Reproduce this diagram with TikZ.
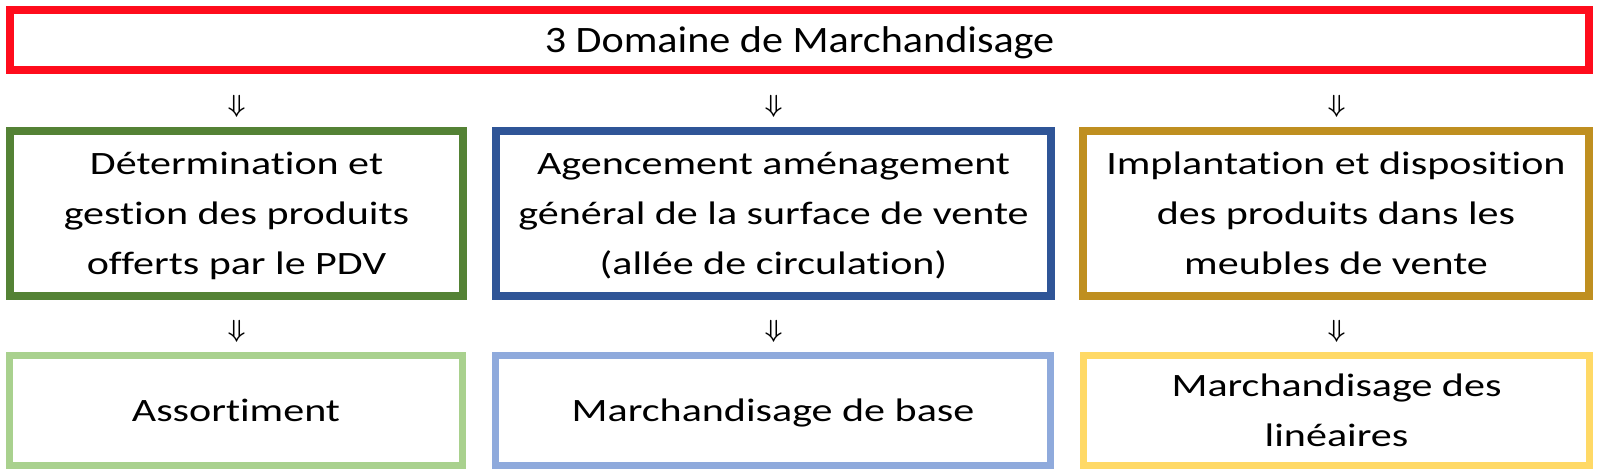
\documentclass[tikz,border=0pt]{standalone}
\usepackage{fontspec}
\setmainfont{Carlito}[FakeStretch=1.29, Ligatures=NoCommon]
\newfontfamily\topfont{Carlito}[FakeStretch=1.13, Ligatures=NoCommon]
\definecolor{cRed}{RGB}{255,12,28}
\definecolor{cGreen}{RGB}{84,130,53}
\definecolor{cBlue}{RGB}{47,85,151}
\definecolor{cGold}{RGB}{191,143,32}
\definecolor{cLGreen}{RGB}{169,209,142}
\definecolor{cLBlue}{RGB}{143,170,220}
\definecolor{cYellow}{RGB}{255,217,102}
\tikzset{
  box/.style={draw, rectangle, inner sep=0pt, align=center, text=black, text depth=0pt,
    font=\fontsize{32.6}{50}\selectfont},
  midbox/.style={box, line width=8pt, minimum height=165pt},
  lowbox/.style={box, line width=7pt, minimum height=110pt},
  darrow/.style={inner sep=0pt, font=\fontsize{30}{30}\selectfont\boldmath}
}
\begin{document}
\begin{tikzpicture}[x=1pt,y=-1pt]
\useasboundingbox (0,0) rectangle (1600,476);
\node[box, draw=cRed, line width=8pt, minimum width=1579pt, minimum height=60pt,
  font=\topfont\fontsize{37.3}{45}\selectfont] (top) at (799.5,40) {3 Domaine de Marchandisage};

\node[midbox, draw=cGreen, minimum width=453pt] (m1) at (236.5,213.5)
  {Détermination et\\gestion des produits\\offerts par le PDV};
\node[midbox, draw=cBlue, minimum width=555pt] (m2) at (773.5,213.5)
  {Agencement aménagement\\général de la surface de vente\\(allée de circulation)};
\node[midbox, draw=cGold, minimum width=506pt] (m3) at (1336,213.5)
  {Implantation et disposition\\des produits dans les\\meubles de vente};

\node[lowbox, draw=cLGreen, minimum width=453pt] (b1) at (236,410.5) {Assortiment};
\node[lowbox, draw=cLBlue, minimum width=555pt] (b2) at (773,410.5) {Marchandisage de base};
\node[lowbox, draw=cYellow, minimum width=506pt] (b3) at (1336.5,410.5) {Marchandisage des\\linéaires};

\node[darrow] (a1) at (236.5,106) {$\Downarrow$};
\node[darrow] (a2) at (773.5,106) {$\Downarrow$};
\node[darrow] (a3) at (1336.5,106) {$\Downarrow$};
\node[darrow] (a4) at (236.5,331) {$\Downarrow$};
\node[darrow] (a5) at (773.5,331) {$\Downarrow$};
\node[darrow] (a6) at (1336.5,331) {$\Downarrow$};
\end{tikzpicture}
\end{document}
